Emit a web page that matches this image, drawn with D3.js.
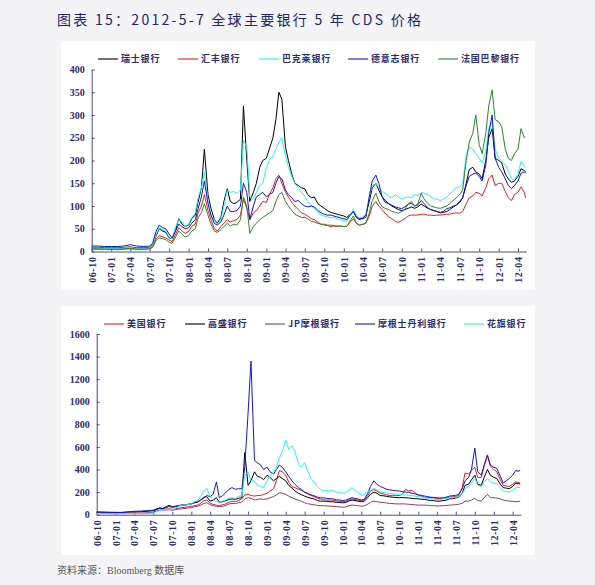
<!DOCTYPE html>
<html lang="zh">
<head>
<meta charset="UTF-8">
<title>全球主要银行 5 年 CDS 价格</title>
<script src="https://d3js.org/d3.v7.min.js"></script>
<style>
  html, body { margin: 0; padding: 0; background: #f4f4f6; }
  svg { display: block; }
  .tick text { font-family: "Liberation Serif", "DejaVu Serif", serif; font-weight: bold; font-size: 10px; fill: #2b2b70; }
  .legend text { font-family: "Noto Sans CJK SC", sans-serif; font-weight: bold; font-size: 9px; fill: #2b2b70; }
</style>
</head>
<body>
<svg id="chart" width="595" height="585"></svg>
<script>
// dates shared by both panels
var dates = [
  "2006-10-01","2006-11-01","2006-12-01","2007-01-01","2007-02-01","2007-03-01","2007-04-01","2007-05-01","2007-06-01","2007-07-01",
  "2007-07-15","2007-08-01","2007-08-15","2007-09-01","2007-09-15","2007-10-01","2007-10-15","2007-11-01","2007-11-15","2007-12-01","2007-12-15",
  "2008-01-01","2008-01-15","2008-02-01","2008-02-15","2008-03-01","2008-03-15","2008-04-01","2008-04-15","2008-05-01","2008-05-15","2008-06-01","2008-06-15",
  "2008-07-01","2008-07-15","2008-08-01","2008-08-15","2008-09-01","2008-09-15","2008-10-01","2008-10-15","2008-11-01","2008-11-15","2008-12-01","2008-12-15",
  "2009-01-01","2009-01-15","2009-02-01","2009-02-15","2009-03-01","2009-03-15","2009-04-01","2009-04-15","2009-05-01","2009-05-15","2009-06-01","2009-06-15",
  "2009-07-01","2009-07-15","2009-08-01","2009-08-15","2009-09-01","2009-09-15","2009-10-01","2009-10-15","2009-11-01","2009-11-15","2009-12-01","2009-12-15",
  "2010-01-01","2010-01-15","2010-02-01","2010-02-15","2010-03-01","2010-03-15","2010-04-01","2010-04-15","2010-05-01","2010-05-15","2010-06-01","2010-06-15",
  "2010-07-01","2010-07-15","2010-08-01","2010-08-15","2010-09-01","2010-09-15","2010-10-01","2010-10-15","2010-11-01","2010-11-15","2010-12-01","2010-12-15",
  "2011-01-01","2011-01-15","2011-02-01","2011-02-15","2011-03-01","2011-03-15","2011-04-01","2011-04-15","2011-05-01","2011-05-15","2011-06-01","2011-06-15",
  "2011-07-01","2011-07-15","2011-08-01","2011-08-15","2011-09-01","2011-09-15","2011-10-01","2011-10-15","2011-11-01","2011-11-15","2011-12-01","2011-12-15",
  "2012-01-01","2012-01-15","2012-02-01","2012-02-15","2012-03-01","2012-03-15","2012-04-01","2012-04-15","2012-05-01","2012-05-07"
];

// top panel: European banks
var ubs = [9,9,8,8,8,9,10,8,8,9,
  14,35,50,45,42,30,28,48,72,60,55,
  58,72,80,110,140,225,125,95,70,62,75,110,138,110,105,108,115,320,200,110,130,150,185,200,
  205,225,250,290,350,335,230,200,170,150,145,140,138,125,118,120,105,100,95,90,86,84,82,80,
  78,75,82,88,75,70,74,80,110,140,150,135,120,112,105,100,96,92,90,92,95,98,95,98,
  104,100,95,92,90,88,85,86,88,92,98,102,108,118,150,180,185,175,170,160,200,250,270,205,
  200,195,170,160,152,155,165,182,178,175];
var hsbc = [5,5,5,5,4,5,6,5,5,6,
  10,28,35,32,30,25,22,38,52,45,40,
  44,55,60,85,100,125,90,70,50,45,55,62,70,65,68,70,80,115,95,70,85,90,100,110,
  108,125,140,160,168,150,130,120,108,100,92,85,82,78,72,70,64,60,58,57,55,56,55,56,
  55,55,65,72,62,58,60,62,78,100,110,100,92,84,76,72,66,64,68,72,78,80,80,80,
  82,82,80,80,79,80,80,81,82,82,84,85,84,88,105,118,122,130,128,122,140,160,168,145,
  150,150,132,118,112,125,130,142,130,118];
var barclays = [8,8,7,7,7,8,9,7,7,8,
  13,38,52,48,45,32,28,55,70,65,55,
  60,75,85,120,140,175,110,80,68,60,70,100,135,130,132,128,135,245,230,120,115,130,145,150,
  185,200,210,225,240,250,210,185,165,150,140,130,122,110,100,95,88,80,78,76,74,75,72,70,
  68,66,82,92,80,74,76,82,120,145,150,140,132,128,122,118,125,120,115,118,120,118,125,122,
  130,128,125,120,116,115,112,115,120,125,135,140,142,150,210,230,225,215,205,195,220,270,285,225,
  205,200,190,178,160,158,170,198,188,185];
var deutsche = [12,12,11,11,11,12,15,12,11,12,
  18,45,58,52,50,38,30,45,60,55,50,
  52,62,70,95,120,155,105,80,62,58,65,80,100,88,88,90,100,150,130,70,100,120,125,130,
  120,125,130,150,165,160,135,125,118,110,112,105,100,98,100,98,90,85,82,80,80,78,76,74,
  72,70,80,88,76,72,72,75,120,155,168,150,120,108,105,102,98,96,94,98,104,106,100,102,
  112,105,96,92,90,88,86,88,94,96,100,102,110,118,145,165,170,172,165,155,190,260,300,205,
  185,175,160,145,138,145,155,172,175,172];
var bnp = [6,6,5,5,5,6,7,5,5,6,
  9,25,30,28,26,20,18,32,45,38,32,
  35,45,50,75,85,105,80,60,45,42,48,55,62,56,60,58,70,120,100,40,55,62,70,75,
  80,85,90,110,125,130,110,100,90,82,78,75,75,72,66,65,62,60,60,58,58,57,56,56,
  55,55,68,78,62,58,60,62,85,112,128,110,98,95,92,88,86,84,88,92,105,110,100,104,
  128,115,105,100,98,96,95,97,100,105,112,118,125,135,200,240,260,300,235,215,260,320,355,290,
  285,275,225,205,200,215,225,270,250,252];

// bottom panel: US banks
var boa = [12,11,10,10,10,12,13,12,14,20,
  45,55,50,50,52,48,52,58,62,65,70,
  72,80,85,100,125,130,105,90,85,80,88,95,110,120,115,125,140,175,180,170,165,170,170,180,
  190,210,230,300,390,380,350,290,250,240,225,215,200,185,170,160,145,140,132,130,130,128,122,120,
  116,118,132,140,135,130,125,130,165,210,222,210,190,185,175,170,172,168,170,180,225,210,215,195,
  172,165,155,152,150,148,145,144,145,148,155,158,162,170,240,370,360,390,420,330,330,430,520,430,
  400,380,310,260,255,250,270,290,285,280];
var goldman = [22,22,21,20,20,24,25,26,30,35,
  45,60,55,70,82,72,75,80,85,85,92,
  95,105,110,130,155,160,120,130,150,110,115,125,135,140,135,145,150,550,260,300,380,340,330,310,
  350,330,300,320,340,320,300,260,235,210,190,178,165,155,145,140,125,120,120,118,115,114,110,108,
  105,108,122,130,125,120,115,118,150,180,200,190,170,168,162,158,155,152,150,152,150,148,145,142,
  140,138,135,130,125,124,120,120,125,128,140,142,148,155,190,260,270,310,350,270,260,330,400,350,
  330,320,270,240,235,230,250,280,275,270];
var jpm = [15,14,13,12,12,14,15,14,16,22,
  30,40,42,42,44,40,44,48,52,55,60,
  62,70,75,85,100,105,90,80,75,70,75,82,95,100,98,105,112,140,150,145,130,135,140,135,
  140,150,160,175,195,190,180,165,150,140,128,120,105,98,92,88,82,80,80,78,76,74,72,70,
  66,68,80,85,82,80,75,78,92,110,120,115,110,108,104,100,98,96,95,96,95,92,90,88,
  85,85,85,83,80,80,78,78,80,82,85,86,90,92,102,120,120,130,145,125,120,150,180,150,
  150,148,140,130,125,120,118,115,118,120];
var morganStanley = [25,22,21,20,20,25,30,32,35,40,
  50,60,55,62,72,65,70,78,85,85,90,
  95,110,115,130,145,170,160,180,290,150,170,195,225,240,225,230,230,420,900,1360,480,460,440,400,
  420,380,360,400,440,420,380,340,300,270,240,225,200,190,175,168,155,150,150,145,142,140,132,130,
  126,128,142,150,145,140,130,135,185,250,300,270,250,240,225,220,215,212,210,205,200,198,190,185,
  176,172,165,160,155,154,150,148,150,155,165,168,172,180,230,300,330,400,590,380,350,440,530,440,
  420,410,340,280,300,320,350,390,385,395];
var citi = [10,9,9,9,9,10,11,10,12,15,
  25,35,40,45,48,42,55,75,82,85,90,
  95,115,125,160,210,235,160,130,120,110,120,130,145,150,145,160,170,350,380,300,300,260,250,240,
  300,340,380,420,500,560,660,580,610,560,450,420,460,390,320,290,250,225,210,215,210,212,200,198,
  190,195,220,240,215,200,172,175,205,215,232,220,200,198,192,188,185,182,180,178,175,172,170,165,
  160,158,150,145,140,138,135,134,140,142,150,150,155,160,185,230,250,280,330,260,250,290,320,290,
  280,275,240,210,205,200,220,240,242,240];

var topNames = ["瑞士银行", "汇丰银行", "巴克莱银行", "德意志银行", "法国巴黎银行"];
var bottomNames = ["美国银行", "高盛银行", "JP摩根银行", "摩根士丹利银行", "花旗银行"];
var topTicks = [0, 50, 100, 150, 200, 250, 300, 350, 400];
var bottomTicks = [0, 200, 400, 600, 800, 1000, 1200, 1400, 1600];

var parse = d3.timeParse("%Y-%m-%d");
var time = dates.map(parse);

var svg = d3.select("#chart");

// title
svg.append("text")
  .attr("x", 57).attr("y", 25)
  .attr("textLength", 364).attr("lengthAdjust", "spacing")
  .style("font-family", "'Noto Sans CJK SC', sans-serif")
  .style("font-size", "14px").style("font-weight", "normal")
  .style("fill", "#1f2766")
  .text("图表 15：2012-5-7 全球主要银行 5 年 CDS 价格");

function drawPanel(cfg) {
  var g = svg.append("g");
  g.append("rect")
    .attr("x", cfg.box[0]).attr("y", cfg.box[1])
    .attr("width", cfg.box[2]).attr("height", cfg.box[3])
    .attr("fill", "#fff");

  var x = d3.scaleTime()
    .domain([parse("2006-10-01"), parse("2012-05-10")])
    .range([cfg.x0, cfg.x1]);
  var y = d3.scaleLinear().domain([0, cfg.max]).range([cfg.y0, cfg.y1]);

  var monthTicks = d3.timeMonth.every(3).range(parse("2006-10-01"), parse("2012-04-02"));

  var xa = g.append("g")
    .attr("transform", "translate(0," + cfg.y0 + ")")
    .call(d3.axisBottom(x).tickValues(monthTicks).tickFormat(d3.timeFormat("%y-%m"))
      .tickSizeInner(-3).tickSizeOuter(0));
  xa.selectAll("text")
    .attr("transform", "rotate(-90)")
    .attr("text-anchor", "end")
    .attr("x", -5).attr("y", 0).attr("dy", "0.35em")
    .style("letter-spacing", "0.6px");

  g.append("g")
    .attr("transform", "translate(" + cfg.x0 + ",0)")
    .call(d3.axisLeft(y).tickValues(cfg.ticks).tickFormat(d3.format("d"))
      .tickSizeInner(-3).tickSizeOuter(0).tickPadding(7));

  g.selectAll(".domain, .tick line").attr("stroke", "#4b4b92");

  var line = d3.line()
    .x(function(d, i) { return x(time[i]); })
    .y(function(d) { return y(d); });

  cfg.series.forEach(function(s, k) {
    g.append("path")
      .datum(s)
      .attr("fill", "none")
      .attr("stroke", cfg.colors[k])
      .attr("stroke-width", 1)
      .attr("d", line);
  });

  var lg = g.append("g").attr("class", "legend");
  cfg.names.forEach(function(n, k) {
    var lx = cfg.legendX[k];
    lg.append("line")
      .attr("x1", lx).attr("x2", lx + 20)
      .attr("y1", cfg.legendY).attr("y2", cfg.legendY)
      .attr("stroke", cfg.colors[k]).attr("stroke-width", 2).attr("opacity", 0.55);
    lg.append("text")
      .attr("x", lx + 23).attr("y", cfg.legendY + 3.3)
      .style("letter-spacing", "0.8px")
      .text(n);
  });
}

drawPanel({
  box: [61, 41, 474, 249],
  x0: 91.7, x1: 526.3, y0: 251.5, y1: 69.5, max: 400,
  ticks: topTicks,
  series: [ubs, hsbc, barclays, deutsche, bnp],
  colors: ["#000000", "#ee1c1c", "#22f5f5", "#1515d8", "#2a8a2a"],
  names: topNames,
  legendX: [98, 178, 259, 348, 438],
  legendY: 59
});

drawPanel({
  box: [61, 306, 474, 249],
  x0: 96.7, x1: 520.8, y0: 514.7, y1: 334, max: 1600,
  ticks: bottomTicks,
  series: [boa, goldman, jpm, morganStanley, citi],
  colors: ["#ee1c1c", "#000000", "#9a3a66", "#1515d8", "#22f5f5"],
  names: bottomNames,
  legendX: [104, 185, 265, 355, 464],
  legendY: 324
});

// source note
svg.append("text")
  .attr("x", 57).attr("y", 574)
  .style("font-family", "'Liberation Serif', 'Noto Sans CJK SC', serif")
  .style("font-size", "10px")
  .style("fill", "#555")
  .text("资料来源：Bloomberg 数据库");
</script>
</body>
</html>
